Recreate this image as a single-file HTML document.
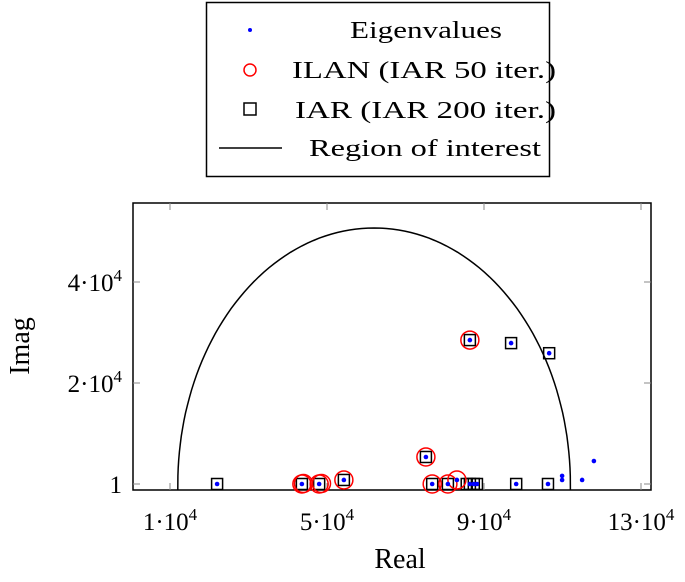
<!DOCTYPE html>
<html><head><meta charset="utf-8"><style>
body{margin:0;background:#fff}
svg text{font-family:"Liberation Serif",serif;fill:#000}
</style></head><body>
<svg id="chart" width="685" height="577" xmlns="http://www.w3.org/2000/svg">
<g>
<rect x="206.5" y="2.5" width="343" height="174" fill="#fff" stroke="#000" stroke-width="1.5"/>
<circle cx="250" cy="30" r="2" fill="#00f"/>
<text x="350" y="38" font-size="24" textLength="152" lengthAdjust="spacingAndGlyphs">Eigenvalues</text>
<circle cx="250" cy="70" r="6" fill="none" stroke="#f00" stroke-width="1.5"/>
<text x="292" y="78" font-size="24" textLength="264" lengthAdjust="spacingAndGlyphs">ILAN (IAR 50 iter.)</text>
<rect x="244" y="103" width="12" height="12" fill="none" stroke="#000" stroke-width="1.5"/>
<text x="295" y="118" font-size="24" textLength="261" lengthAdjust="spacingAndGlyphs">IAR (IAR 200 iter.)</text>
<line x1="219" y1="148" x2="282" y2="148" stroke="#000" stroke-width="1.5"/>
<text x="309" y="156" font-size="24" textLength="232" lengthAdjust="spacingAndGlyphs">Region of interest</text>
</g>
<g id="plot"></g>
</svg>
<script>
const xTicks=[10000,50000,90000,130000];
const xTickLabels=["1","5","9","13"];
const yTicks=[1,20000,40000];
const yTickLabels=["1","2","4"];
const eigRe=[22000,43600,48000,54300,75200,76800,80800,83100,86400,87400,88200,98200,106300,109900,109900,115000,118000,86400,96900,106600];
const eigIm=[1,1,1,800,5350,1,1,800,1,1,1,1,1,800,1600,800,4550,28500,27900,25900];
const ilanRe=[43600,44000,48000,48600,54300,75200,76800,80800,83100,86400];
const ilanIm=[1,100,1,100,800,5350,1,1,800,28500];
const iarRe=[22000,43600,48000,54300,75200,76800,80800,85600,86400,87400,88200,98200,106300,86400,96900,106600];
const iarIm=[1,1,1,800,5350,1,1,1,1,1,1,1,1,28500,27900,25900];
const roiCenter=62000, roiRadius=50000, roiHeight=50700;

const NS="http://www.w3.org/2000/svg";
const X0=133,X1=651,Y0=203,Y1=490;
const sx=v=>170+(v-10000)*157/40000;
const sy=v=>484-(v-1)*101/20000;
const g=document.getElementById('plot');
function mk(t,a){const e=document.createElementNS(NS,t);for(const k in a)e.setAttribute(k,a[k]);g.appendChild(e);return e;}
let box=mk('rect',{x:X0,y:Y0,width:X1-X0,height:Y1-Y0,fill:'none',stroke:'#000','stroke-width':1.5});


xTicks.forEach((v,i)=>{const x=sx(v);
 let t=mk('line',{x1:x,y1:Y1,x2:x,y2:Y1-7,stroke:'#888','stroke-width':1});
 
 
 let t2=mk('line',{x1:x,y1:Y0,x2:x,y2:Y0+7,stroke:'#888','stroke-width':1});
 
 
 let l=mk('text',{x:x,y:530,'font-size':25,'text-anchor':'middle'});
 l.innerHTML=xTickLabels[i]+'·10<tspan dy="-10" font-size="17">4</tspan>';
 
 
});
yTicks.forEach((v,i)=>{const y=sy(v);
 let t=mk('line',{x1:X0,y1:y,x2:X0+7,y2:y,stroke:'#888','stroke-width':1});
 
 
 let t2=mk('line',{x1:X1,y1:y,x2:X1-7,y2:y,stroke:'#888','stroke-width':1});
 
 
 let l=mk('text',{x:122,y:y+9,'font-size':25,'text-anchor':'end'});
 if(v===1) l.textContent='1'; else l.innerHTML=yTickLabels[i]+'·10<tspan dy="-10" font-size="17">4</tspan>';
 
 
});
let xt=mk('text',{x:400,y:568,'font-size':28,'text-anchor':'middle'});xt.textContent='Real';


let yt=mk('text',{x:0,y:0,'font-size':28,'text-anchor':'middle',transform:'translate(29,346) rotate(-90)'});yt.textContent='Imag';


let d='';for(let i=0;i<=100;i++){const a=Math.PI*i/100;const re=roiCenter-roiRadius*Math.cos(a),im=roiHeight*Math.sin(a);let y=(i===0||i===100)?Y1:Math.min(sy(im),Y1);d+=(i?'L':'M')+sx(re).toFixed(1)+' '+y.toFixed(1);}
let c=mk('path',{d:d,fill:'none',stroke:'#000','stroke-width':1.5});


iarRe.forEach((r,i)=>{let e=mk('rect',{x:sx(r)-5.5,y:sy(iarIm[i])-5.5,width:11,height:11,fill:'none',stroke:'#000','stroke-width':1.5});
 
 });
ilanRe.forEach((r,i)=>{let e=mk('circle',{cx:sx(r),cy:sy(ilanIm[i]),r:9,fill:'none',stroke:'#f00','stroke-width':1.5});
 
 });
eigRe.forEach((r,i)=>{let e=mk('circle',{cx:sx(r),cy:sy(eigIm[i]),r:2.3,fill:'#00f'});
 
 });
</script>
</body></html>
